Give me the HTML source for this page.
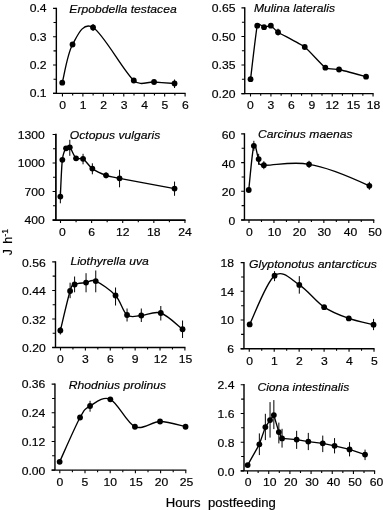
<!DOCTYPE html>
<html lang="en">
<head>
<meta charset="utf-8">
<title>Postfeeding metabolic response</title>
<style>
html,body{margin:0;padding:0;background:#fff;}
body{width:383px;height:510px;overflow:hidden;}
svg{display:block;font-family:'Liberation Sans', Arial, Helvetica, sans-serif;fill:#000;}
text{stroke:#000;stroke-width:0.18px;}
</style>
</head>
<body>
<svg width="383" height="510" viewBox="0 0 383 510">
<rect width="383" height="510" fill="#fff"/>
<g transform="translate(0 0)">
<path d="M56.35 7.7 V94.1 M53.05 93.4 H185.65" fill="none" stroke="#000" stroke-width="1.4"/>
<path d="M53.05 8.4 H56.35 M53.5 22.57 H56.35 M53.05 36.73 H56.35 M53.5 50.9 H56.35 M53.05 65.07 H56.35 M53.5 79.23 H56.35 M53.05 93.4 H56.35 M62.45 93.4 V96.4 M72.67 93.4 V95.5 M82.89 93.4 V96.4 M93.11 93.4 V95.5 M103.33 93.4 V96.4 M113.55 93.4 V95.5 M123.78 93.4 V96.4 M134 93.4 V95.5 M144.22 93.4 V96.4 M154.44 93.4 V95.5 M164.66 93.4 V96.4 M174.88 93.4 V95.5 M185.1 93.4 V96.4" fill="none" stroke="#000" stroke-width="1.1"/>
<g font-size="11.6" text-anchor="end">
<text transform="translate(46.6 12.35) scale(1.05 1)">0.4</text>
<text transform="translate(46.6 40.68) scale(1.05 1)">0.3</text>
<text transform="translate(46.6 69.02) scale(1.05 1)">0.2</text>
<text transform="translate(46.6 97.35) scale(1.05 1)">0.1</text>
</g>
<g font-size="11.6" text-anchor="middle">
<text transform="translate(62.75 108.9) scale(1.05 1)">0</text>
<text transform="translate(83.19 108.9) scale(1.05 1)">1</text>
<text transform="translate(103.63 108.9) scale(1.05 1)">2</text>
<text transform="translate(124.08 108.9) scale(1.05 1)">3</text>
<text transform="translate(144.52 108.9) scale(1.05 1)">4</text>
<text transform="translate(164.96 108.9) scale(1.05 1)">5</text>
<text transform="translate(185.4 108.9) scale(1.05 1)">6</text>
</g>
<text transform="translate(69.3 13) scale(1.03 1)" font-size="11.8" font-style="italic">Erpobdella testacea</text>
<path d="M93.05 24 V31 M174.55 79.5 V88" fill="none" stroke="#000" stroke-width="1"/>
<path d="M62.25 82.7 C63.97 76.33 67.42 53.7 72.55 44.5 C77.68 35.3 82.84 21.5 93.05 27.5 C103.26 33.5 123.63 71.42 133.8 80.5 C140.5 86.5 147.3 81.5 154.05 82 C160.84 82.5 171.13 83.25 174.55 83.5" fill="none" stroke="#000" stroke-width="1.35" stroke-linejoin="round" stroke-linecap="round"/>
<circle cx="62.25" cy="82.7" r="2.9"/>
<circle cx="72.55" cy="44.5" r="2.9"/>
<circle cx="93.05" cy="27.5" r="2.9"/>
<circle cx="133.8" cy="80.5" r="2.9"/>
<circle cx="154.05" cy="82" r="2.9"/>
<circle cx="174.55" cy="83.5" r="2.9"/>
</g>
<g transform="translate(0 0)">
<path d="M244.75 7.2 V94.3 M241.45 93.6 H373.6" fill="none" stroke="#000" stroke-width="1.4"/>
<path d="M241.45 7.9 H244.75 M241.9 22.18 H244.75 M241.45 36.47 H244.75 M241.9 50.75 H244.75 M241.45 65.03 H244.75 M241.9 79.32 H244.75 M241.45 93.6 H244.75 M250.5 93.6 V96.6 M260.71 93.6 V95.7 M270.93 93.6 V96.6 M281.14 93.6 V95.7 M291.35 93.6 V96.6 M301.56 93.6 V95.7 M311.77 93.6 V96.6 M321.99 93.6 V95.7 M332.2 93.6 V96.6 M342.41 93.6 V95.7 M352.62 93.6 V96.6 M362.84 93.6 V95.7 M373.05 93.6 V96.6" fill="none" stroke="#000" stroke-width="1.1"/>
<g font-size="11.6" text-anchor="end">
<text transform="translate(235.5 12.2) scale(1.05 1)">0.65</text>
<text transform="translate(235.5 40.77) scale(1.05 1)">0.50</text>
<text transform="translate(235.5 69.33) scale(1.05 1)">0.35</text>
<text transform="translate(235.5 97.9) scale(1.05 1)">0.20</text>
</g>
<g font-size="11.6" text-anchor="middle">
<text transform="translate(250.5 109.2) scale(1.05 1)">0</text>
<text transform="translate(270.93 109.2) scale(1.05 1)">3</text>
<text transform="translate(291.35 109.2) scale(1.05 1)">6</text>
<text transform="translate(311.77 109.2) scale(1.05 1)">9</text>
<text transform="translate(332.2 109.2) scale(1.05 1)">12</text>
<text transform="translate(353.62 109.2) scale(1.05 1)">15</text>
<text transform="translate(373.45 109.2) scale(1.05 1)">18</text>
</g>
<text transform="translate(254 12.4) scale(1.03 1)" font-size="11.8" font-style="italic">Mulina lateralis</text>
<path d="M278.05 28.7 V35.7" fill="none" stroke="#000" stroke-width="1"/>
<path d="M250.55 79.2 C251.05 75.19 256.24 29.6 257.25 25.7 C258.26 21.8 263.03 27.2 264.05 27.2 C265.07 27.2 269.8 25.32 270.85 25.7 C271.9 26.07 275.51 30.6 278.05 32.2 C280.59 33.8 301.2 44.34 304.75 47 C308.3 49.66 322.78 66.01 325.35 67.7 C327.92 69.39 336 68.83 339.05 69.5 C342.1 70.17 364.03 76.16 366.05 76.7" fill="none" stroke="#000" stroke-width="1.35" stroke-linejoin="round" stroke-linecap="round"/>
<circle cx="250.55" cy="79.2" r="2.9"/>
<circle cx="257.25" cy="25.7" r="2.9"/>
<circle cx="264.05" cy="27.2" r="2.9"/>
<circle cx="270.85" cy="25.7" r="2.9"/>
<circle cx="278.05" cy="32.2" r="2.9"/>
<circle cx="304.75" cy="47" r="2.9"/>
<circle cx="325.35" cy="67.7" r="2.9"/>
<circle cx="339.05" cy="69.5" r="2.9"/>
<circle cx="366.05" cy="76.7" r="2.9"/>
</g>
<g transform="translate(0 0)">
<path d="M55.9 133.8 V220.75 M52.6 220.05 H185.5" fill="none" stroke="#000" stroke-width="1.7"/>
<path d="M52.6 134.5 H55.9 M53.05 148.76 H55.9 M52.6 163.02 H55.9 M53.05 177.28 H55.9 M52.6 191.53 H55.9 M53.05 205.79 H55.9 M52.6 220.05 H55.9 M60.5 220.05 V223.05 M76.06 220.05 V222.15 M91.61 220.05 V223.05 M107.17 220.05 V222.15 M122.72 220.05 V223.05 M138.28 220.05 V222.15 M153.84 220.05 V223.05 M169.39 220.05 V222.15 M184.95 220.05 V223.05" fill="none" stroke="#000" stroke-width="1.1"/>
<g font-size="11.6" text-anchor="end">
<text transform="translate(44.8 138.7) scale(1.05 1)">1300</text>
<text transform="translate(44.8 167.22) scale(1.05 1)">1000</text>
<text transform="translate(44.8 195.73) scale(1.05 1)">700</text>
<text transform="translate(44.8 224.25) scale(1.05 1)">400</text>
</g>
<g font-size="11.6" text-anchor="middle">
<text transform="translate(62.4 236.25) scale(1.05 1)">0</text>
<text transform="translate(91.61 236.25) scale(1.05 1)">6</text>
<text transform="translate(122.72 236.25) scale(1.05 1)">12</text>
<text transform="translate(153.84 236.25) scale(1.05 1)">18</text>
<text transform="translate(184.95 236.25) scale(1.05 1)">24</text>
</g>
<text transform="translate(69.8 138.8) scale(1.03 1)" font-size="11.8" font-style="italic">Octopus vulgaris</text>
<path d="M60.35 190.3 V203.3 M69.8 139.8 V155.8 M83.05 153.8 V164.3 M92.35 163.3 V174.3 M106.05 172.3 V178.3 M119.55 169.8 V187.3 M174.55 181.6 V195.8" fill="none" stroke="#000" stroke-width="1"/>
<path d="M60.35 196.6 C60.68 190.47 61.4 167.85 62.35 159.8 C63.3 151.75 64.81 150.38 66.05 148.3 C67.29 146.22 68.13 145.63 69.8 147.3 C71.47 148.97 73.84 156.38 76.05 158.3 C78.26 160.22 80.33 157.08 83.05 158.8 C85.77 160.52 88.52 165.85 92.35 168.6 C96.18 171.35 101.52 173.68 106.05 175.3 C110.58 176.92 108.13 176.08 119.55 178.3 C130.97 180.52 165.38 186.88 174.55 188.6" fill="none" stroke="#000" stroke-width="1.35" stroke-linejoin="round" stroke-linecap="round"/>
<circle cx="60.35" cy="196.6" r="2.9"/>
<circle cx="62.35" cy="159.8" r="2.9"/>
<circle cx="66.05" cy="148.3" r="2.9"/>
<circle cx="69.8" cy="147.3" r="2.9"/>
<circle cx="76.05" cy="158.3" r="2.9"/>
<circle cx="83.05" cy="158.8" r="2.9"/>
<circle cx="92.35" cy="168.6" r="2.9"/>
<circle cx="106.05" cy="175.3" r="2.9"/>
<circle cx="119.55" cy="178.3" r="2.9"/>
<circle cx="174.55" cy="188.6" r="2.9"/>
</g>
<g transform="translate(0 0)">
<path d="M244.45 133.2 V220.65 M241.15 219.95 H374.3" fill="none" stroke="#000" stroke-width="1.4"/>
<path d="M241.15 133.9 H244.45 M241.6 148.24 H244.45 M241.15 162.58 H244.45 M241.6 176.93 H244.45 M241.15 191.27 H244.45 M241.6 205.61 H244.45 M241.15 219.95 H244.45 M249 219.95 V222.95 M261.48 219.95 V222.05 M273.95 219.95 V222.95 M286.43 219.95 V222.05 M298.9 219.95 V222.95 M311.38 219.95 V222.05 M323.85 219.95 V222.95 M336.32 219.95 V222.05 M348.8 219.95 V222.95 M361.27 219.95 V222.05 M373.75 219.95 V222.95" fill="none" stroke="#000" stroke-width="1.1"/>
<g font-size="11.6" text-anchor="end">
<text transform="translate(235.2 138.9) scale(1.05 1)">60</text>
<text transform="translate(235.2 167.58) scale(1.05 1)">40</text>
<text transform="translate(235.2 196.27) scale(1.05 1)">20</text>
<text transform="translate(235.2 224.95) scale(1.05 1)">0</text>
</g>
<g font-size="11.6" text-anchor="middle">
<text transform="translate(249.5 236.25) scale(1.05 1)">0</text>
<text transform="translate(274.45 236.25) scale(1.05 1)">10</text>
<text transform="translate(299.4 236.25) scale(1.05 1)">20</text>
<text transform="translate(324.35 236.25) scale(1.05 1)">30</text>
<text transform="translate(350.4 236.25) scale(1.05 1)">40</text>
<text transform="translate(375.05 236.25) scale(1.05 1)">50</text>
</g>
<text transform="translate(258 137.8) scale(1.03 1)" font-size="11.8" font-style="italic">Carcinus maenas</text>
<path d="M253.85 140.8 V150.8 M258.65 153.8 V164.8 M263.85 161.2 V169.2 M309.05 160.8 V168 M369.35 181.8 V189.8" fill="none" stroke="#000" stroke-width="1"/>
<path d="M248.75 190 C249.6 182.63 252.2 150.95 253.85 145.8 C255.5 140.65 256.98 155.87 258.65 159.1 C260.32 162.33 255.45 164.33 263.85 165.2 C272.25 166.07 291.47 160.87 309.05 164.3 C328 167 352.5 178 369.35 185.8" fill="none" stroke="#000" stroke-width="1.35" stroke-linejoin="round" stroke-linecap="round"/>
<circle cx="248.75" cy="190" r="2.9"/>
<circle cx="253.85" cy="145.8" r="2.9"/>
<circle cx="258.65" cy="159.1" r="2.9"/>
<circle cx="263.85" cy="165.2" r="2.9"/>
<circle cx="309.05" cy="164.3" r="2.9"/>
<circle cx="369.35" cy="185.8" r="2.9"/>
</g>
<g transform="translate(0 0)">
<path d="M55.5 261.2 V348.2 M52.2 347.5 H185.45" fill="none" stroke="#000" stroke-width="1.4"/>
<path d="M52.2 261.9 H55.5 M52.65 276.17 H55.5 M52.2 290.43 H55.5 M52.65 304.7 H55.5 M52.2 318.97 H55.5 M52.65 333.23 H55.5 M52.2 347.5 H55.5 M60.5 347.5 V350.5 M72.94 347.5 V349.6 M85.38 347.5 V350.5 M97.82 347.5 V349.6 M110.26 347.5 V350.5 M122.7 347.5 V349.6 M135.14 347.5 V350.5 M147.58 347.5 V349.6 M160.02 347.5 V350.5 M172.46 347.5 V349.6 M184.9 347.5 V350.5" fill="none" stroke="#000" stroke-width="1.1"/>
<g font-size="11.6" text-anchor="end">
<text transform="translate(45.7 266.7) scale(1.05 1)">0.56</text>
<text transform="translate(45.7 295.23) scale(1.05 1)">0.44</text>
<text transform="translate(45.7 323.77) scale(1.05 1)">0.32</text>
<text transform="translate(45.7 352.3) scale(1.05 1)">0.20</text>
</g>
<g font-size="11.6" text-anchor="middle">
<text transform="translate(60.5 363) scale(1.05 1)">0</text>
<text transform="translate(85.38 363) scale(1.05 1)">3</text>
<text transform="translate(110.26 363) scale(1.05 1)">6</text>
<text transform="translate(135.14 363) scale(1.05 1)">9</text>
<text transform="translate(160.62 363) scale(1.05 1)">12</text>
<text transform="translate(185.4 363) scale(1.05 1)">15</text>
</g>
<text transform="translate(70.4 264.7) scale(1.03 1)" font-size="11.8" font-style="italic">Liothyrella uva</text>
<path d="M60.35 327 V334.5 M70.1 282.7 V298.2 M74.6 276.5 V292.3 M86.05 273.2 V292.3 M95.75 270.5 V292.3 M115.55 287.5 V305.5 M127.05 308.5 V321.5 M141.3 308.5 V322 M160.8 306 V320.5 M182.55 320.5 V338" fill="none" stroke="#000" stroke-width="1"/>
<path d="M60.35 330.5 C61.97 323.92 67.72 298.67 70.1 291 C72.47 283.33 71.94 285.9 74.6 284.5 C77.26 283.1 82.52 283.17 86.05 282.6 C89.58 282.03 90.83 278.95 95.75 281.1 C100.67 283.25 110.33 289.85 115.55 295.5 C120.77 301.15 122.76 311.67 127.05 315 C131.34 318.33 135.68 315.83 141.3 315.5 C146.93 315.17 153.93 310.71 160.8 313 C167.68 315.29 178.93 326.54 182.55 329.25" fill="none" stroke="#000" stroke-width="1.35" stroke-linejoin="round" stroke-linecap="round"/>
<circle cx="60.35" cy="330.5" r="2.9"/>
<circle cx="70.1" cy="291" r="2.9"/>
<circle cx="74.6" cy="284.5" r="2.9"/>
<circle cx="86.05" cy="282.6" r="2.9"/>
<circle cx="95.75" cy="281.1" r="2.9"/>
<circle cx="115.55" cy="295.5" r="2.9"/>
<circle cx="127.05" cy="315" r="2.9"/>
<circle cx="141.3" cy="315.5" r="2.9"/>
<circle cx="160.8" cy="313" r="2.9"/>
<circle cx="182.55" cy="329.25" r="2.9"/>
</g>
<g transform="translate(0 0)">
<path d="M243.95 261.9 V349.45 M240.65 348.75 H374.55" fill="none" stroke="#000" stroke-width="1.4"/>
<path d="M240.65 262.6 H243.95 M241.1 276.96 H243.95 M240.65 291.32 H243.95 M241.1 305.68 H243.95 M240.65 320.03 H243.95 M241.1 334.39 H243.95 M240.65 348.75 H243.95 M249.25 348.75 V351.75 M261.73 348.75 V350.85 M274.2 348.75 V351.75 M286.68 348.75 V350.85 M299.15 348.75 V351.75 M311.62 348.75 V350.85 M324.1 348.75 V351.75 M336.57 348.75 V350.85 M349.05 348.75 V351.75 M361.52 348.75 V350.85 M374 348.75 V351.75" fill="none" stroke="#000" stroke-width="1.1"/>
<g font-size="11.6" text-anchor="end">
<text transform="translate(234 267) scale(1.05 1)">18</text>
<text transform="translate(234 295.72) scale(1.05 1)">14</text>
<text transform="translate(234 324.43) scale(1.05 1)">10</text>
<text transform="translate(234 353.15) scale(1.05 1)">6</text>
</g>
<g font-size="11.6" text-anchor="middle">
<text transform="translate(249.55 365.15) scale(1.05 1)">0</text>
<text transform="translate(274.5 365.15) scale(1.05 1)">1</text>
<text transform="translate(299.45 365.15) scale(1.05 1)">2</text>
<text transform="translate(324.4 365.15) scale(1.05 1)">3</text>
<text transform="translate(349.35 365.15) scale(1.05 1)">4</text>
<text transform="translate(374.3 365.15) scale(1.05 1)">5</text>
</g>
<text transform="translate(249 267.8) scale(1.04 1)" font-size="11.8" font-style="italic">Glyptonotus antarcticus</text>
<path d="M274.55 271.15 V281.15 M299.3 276.15 V293.65 M373.55 318.9 V330.15" fill="none" stroke="#000" stroke-width="1"/>
<path d="M249.65 324.45 C253.8 316.32 266.28 282.24 274.55 275.65 C282.82 269.06 291.03 279.65 299.3 284.9 C307.57 290.15 315.9 301.57 324.15 307.15 C332.4 312.73 340.57 315.48 348.8 318.4 C357.03 321.32 369.43 323.61 373.55 324.65" fill="none" stroke="#000" stroke-width="1.35" stroke-linejoin="round" stroke-linecap="round"/>
<circle cx="249.65" cy="324.45" r="2.9"/>
<circle cx="274.55" cy="275.65" r="2.9"/>
<circle cx="299.3" cy="284.9" r="2.9"/>
<circle cx="324.15" cy="307.15" r="2.9"/>
<circle cx="348.8" cy="318.4" r="2.9"/>
<circle cx="373.55" cy="324.65" r="2.9"/>
</g>
<g transform="translate(0 0)">
<path d="M54.95 383.4 V470.85 M51.65 470.15 H186.35" fill="none" stroke="#000" stroke-width="1.4"/>
<path d="M51.65 384.1 H54.95 M52.1 398.44 H54.95 M51.65 412.78 H54.95 M52.1 427.12 H54.95 M51.65 441.47 H54.95 M52.1 455.81 H54.95 M51.65 470.15 H54.95 M59.8 470.15 V473.15 M72.4 470.15 V472.25 M85 470.15 V473.15 M97.6 470.15 V472.25 M110.2 470.15 V473.15 M122.8 470.15 V472.25 M135.4 470.15 V473.15 M148 470.15 V472.25 M160.6 470.15 V473.15 M173.2 470.15 V472.25 M185.8 470.15 V473.15" fill="none" stroke="#000" stroke-width="1.1"/>
<g font-size="11.6" text-anchor="end">
<text transform="translate(45.35 388.25) scale(1.05 1)">0.36</text>
<text transform="translate(45.35 416.78) scale(1.05 1)">0.24</text>
<text transform="translate(45.35 446.47) scale(1.05 1)">0.12</text>
<text transform="translate(45.35 475.15) scale(1.05 1)">0.00</text>
</g>
<g font-size="11.6" text-anchor="middle">
<text transform="translate(59.8 485.75) scale(1.05 1)">0</text>
<text transform="translate(85 485.75) scale(1.05 1)">5</text>
<text transform="translate(110.2 485.75) scale(1.05 1)">10</text>
<text transform="translate(135.9 485.75) scale(1.05 1)">15</text>
<text transform="translate(161.6 485.75) scale(1.05 1)">20</text>
<text transform="translate(186.5 485.75) scale(1.05 1)">25</text>
</g>
<text transform="translate(68.8 389.1) scale(1.03 1)" font-size="11.8" font-style="italic">Rhodnius prolinus</text>
<path d="M90.05 400.8 V411.7" fill="none" stroke="#000" stroke-width="1"/>
<path d="M59.65 461.8 C63.05 454.42 74.98 426.8 80.05 417.5 C85.12 408.2 85 409.03 90.05 406 C95.1 402.97 102.87 395.84 110.35 399.3 C117.83 402.76 126.67 423.05 134.95 426.75 C143.23 430.45 151.62 421.5 160.05 421.5 C168.48 421.5 181.3 425.88 185.55 426.75" fill="none" stroke="#000" stroke-width="1.35" stroke-linejoin="round" stroke-linecap="round"/>
<circle cx="59.65" cy="461.8" r="2.9"/>
<circle cx="80.05" cy="417.5" r="2.9"/>
<circle cx="90.05" cy="406" r="2.9"/>
<circle cx="110.35" cy="399.3" r="2.9"/>
<circle cx="134.95" cy="426.75" r="2.9"/>
<circle cx="160.05" cy="421.5" r="2.9"/>
<circle cx="185.55" cy="426.75" r="2.9"/>
</g>
<g transform="translate(0 0)">
<path d="M244 384.05 V471.6 M240.7 470.9 H375.15" fill="none" stroke="#000" stroke-width="1.4"/>
<path d="M240.7 384.75 H244 M241.15 399.11 H244 M240.7 413.47 H244 M241.15 427.82 H244 M240.7 442.18 H244 M241.15 456.54 H244 M240.7 470.9 H244 M247.55 470.9 V473.9 M258.14 470.9 V473 M268.73 470.9 V473.9 M279.31 470.9 V473 M289.9 470.9 V473.9 M300.49 470.9 V473 M311.08 470.9 V473.9 M321.66 470.9 V473 M332.25 470.9 V473.9 M342.84 470.9 V473 M353.43 470.9 V473.9 M364.01 470.9 V473 M374.6 470.9 V473.9" fill="none" stroke="#000" stroke-width="1.1"/>
<g font-size="11.6" text-anchor="end">
<text transform="translate(234.4 389.25) scale(1.05 1)">2.4</text>
<text transform="translate(234.4 417.97) scale(1.05 1)">1.6</text>
<text transform="translate(234.4 446.98) scale(1.05 1)">0.8</text>
<text transform="translate(234.4 475.7) scale(1.05 1)">0.0</text>
</g>
<g font-size="11.6" text-anchor="middle">
<text transform="translate(248.05 485.7) scale(1.05 1)">0</text>
<text transform="translate(269.73 485.7) scale(1.05 1)">10</text>
<text transform="translate(290.7 485.7) scale(1.05 1)">20</text>
<text transform="translate(312.08 485.7) scale(1.05 1)">30</text>
<text transform="translate(333.55 485.7) scale(1.05 1)">40</text>
<text transform="translate(355.12 485.7) scale(1.05 1)">50</text>
<text transform="translate(376.4 485.7) scale(1.05 1)">60</text>
</g>
<text transform="translate(257.4 390.8) scale(1.03 1)" font-size="11.8" font-style="italic">Ciona intestinalis</text>
<path d="M259.35 433.4 V455.1 M265.35 413.8 V440.1 M270.05 402.1 V437.6 M273.85 400.1 V429.1 M278.85 422.6 V443.4 M282.05 428.8 V447.6 M296.65 430.8 V448.9 M308.3 432.9 V450.1 M322.75 435.6 V452.1 M334.55 438.1 V453.4 M349.55 442.1 V456.4 M365.05 449.6 V460.1" fill="none" stroke="#000" stroke-width="1"/>
<path d="M247.65 465.1 L259.35 444.3 L265.35 427.1 L270.05 420.1 L273.85 415.1 L278.85 432.1 L282.05 438.4 L296.65 439.6 L308.3 441.6 L322.75 443.35 L334.55 445.8 L349.55 449.4 L365.05 454.6" fill="none" stroke="#000" stroke-width="1.35" stroke-linejoin="round" stroke-linecap="round"/>
<circle cx="247.65" cy="465.1" r="2.9"/>
<circle cx="259.35" cy="444.3" r="2.9"/>
<circle cx="265.35" cy="427.1" r="2.9"/>
<circle cx="270.05" cy="420.1" r="2.9"/>
<circle cx="273.85" cy="415.1" r="2.9"/>
<circle cx="278.85" cy="432.1" r="2.9"/>
<circle cx="282.05" cy="438.4" r="2.9"/>
<circle cx="296.65" cy="439.6" r="2.9"/>
<circle cx="308.3" cy="441.6" r="2.9"/>
<circle cx="322.75" cy="443.35" r="2.9"/>
<circle cx="334.55" cy="445.8" r="2.9"/>
<circle cx="349.55" cy="449.4" r="2.9"/>
<circle cx="365.05" cy="454.6" r="2.9"/>
</g>
<text transform="translate(12.2 255.3) rotate(-90)" font-size="12.4" word-spacing="1.9">J h<tspan dy="-4.2" dx="0.3" font-size="8.6">-1</tspan></text>
<text transform="translate(165.7 507) scale(1.075 1)" font-size="12.2">Hours <tspan dx="3.4">postfeeding</tspan></text>
</svg>
</body>
</html>
